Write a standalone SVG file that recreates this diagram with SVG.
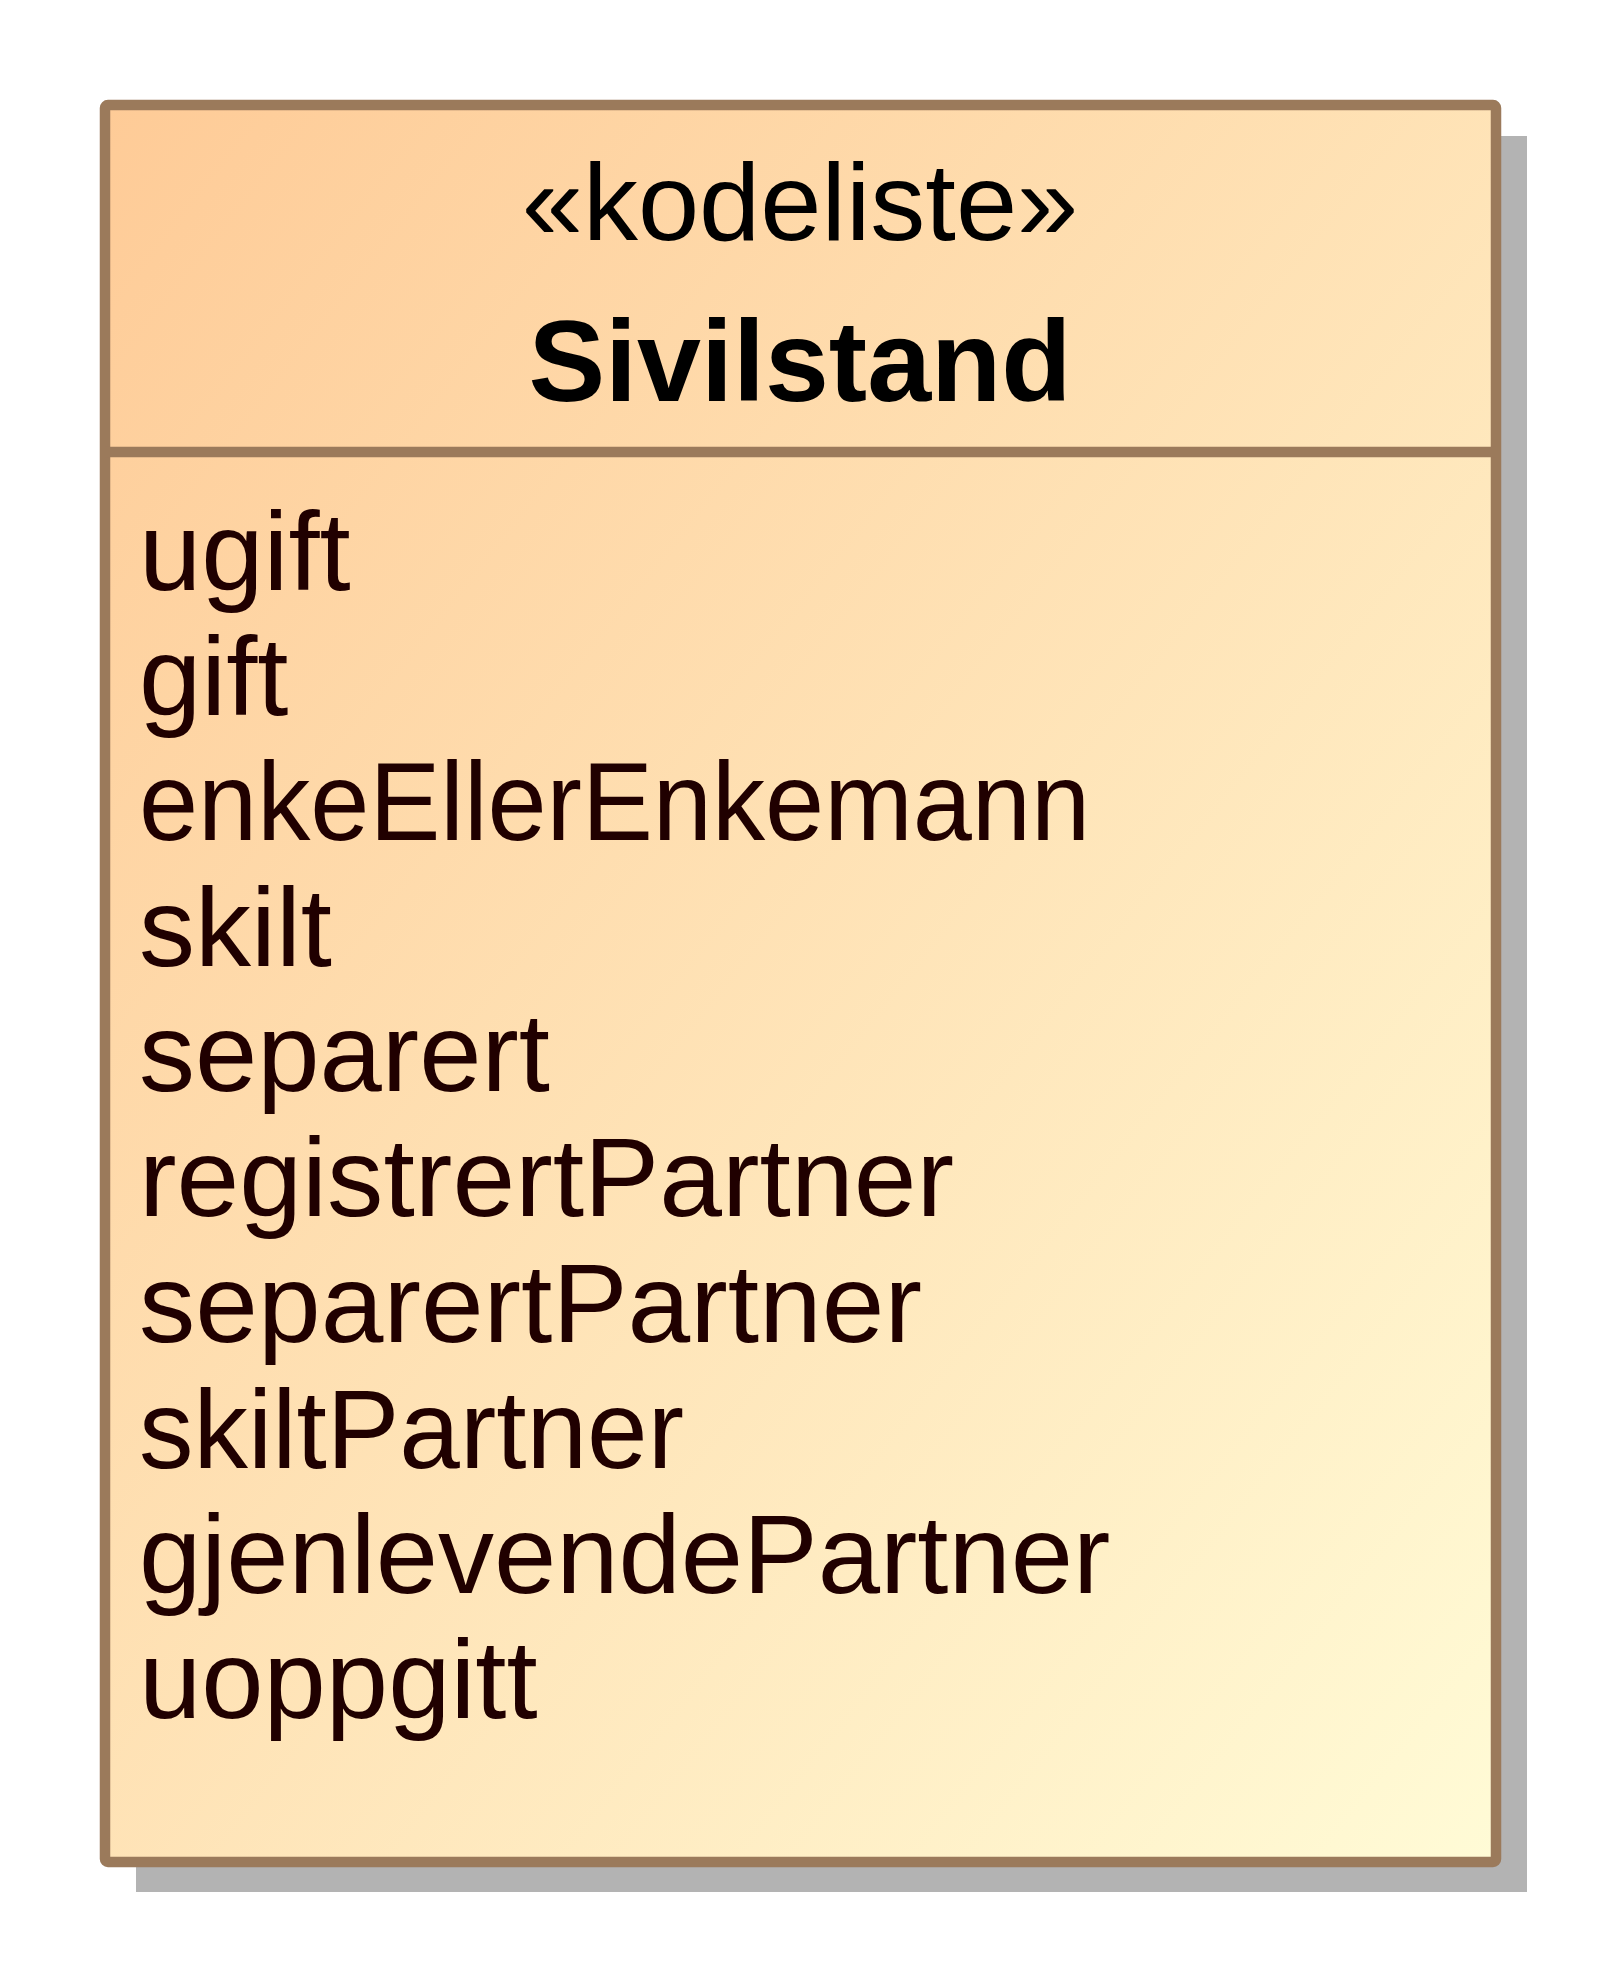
<svg xmlns="http://www.w3.org/2000/svg" width="1600" height="1966" viewBox="0 0 1600 1966">
  <style>
    .stereo { font-family: "Liberation Sans", Arial, sans-serif; font-size: 110px; fill: #000000; }
    .name { font-family: "Liberation Sans", Arial, sans-serif; font-size: 115px; font-weight: bold; fill: #000000; }
    .attr { font-family: "Liberation Sans", Arial, sans-serif; font-size: 112px; fill: #200000; }
    .frame { fill: none; stroke: #9B7A5B; stroke-width: 10.5; }
  </style>
  <defs>
    <linearGradient id="fillGrad" x1="0" y1="0" x2="1" y2="1">
      <stop offset="0" stop-color="#FECB97"/>
      <stop offset="1" stop-color="#FFFBD6"/>
    </linearGradient>
  </defs>
  <rect width="1600" height="1966" fill="#FFFFFF"/>
  <g id="node-sivilstand">
    <rect x="136" y="136" width="1391" height="1756" fill="#B3B3B3"/>
    <rect x="105" y="105" width="1391" height="1757" rx="3" fill="url(#fillGrad)"/>
    <rect class="frame" x="105" y="105" width="1391" height="1757" rx="3"/>
    <line class="frame" x1="105" y1="452" x2="1496" y2="452"/>
    <text class="stereo" x="800" y="240" text-anchor="middle">«kodeliste»</text>
    <text class="name" x="800" y="401" text-anchor="middle">Sivilstand</text>
    <text class="attr" x="139" y="590">ugift</text>
    <text class="attr" x="139" y="715">gift</text>
    <text class="attr" x="139" y="840" textLength="951" lengthAdjust="spacingAndGlyphs">enkeEllerEnkemann</text>
    <text class="attr" x="139" y="966">skilt</text>
    <text class="attr" x="139" y="1091">separert</text>
    <text class="attr" x="139" y="1216" textLength="815" lengthAdjust="spacingAndGlyphs">registrertPartner</text>
    <text class="attr" x="139" y="1342" textLength="783" lengthAdjust="spacingAndGlyphs">separertPartner</text>
    <text class="attr" x="139" y="1468" textLength="545" lengthAdjust="spacingAndGlyphs">skiltPartner</text>
    <text class="attr" x="139" y="1593">gjenlevendePartner</text>
    <text class="attr" x="139" y="1718">uoppgitt</text>
  </g>
  <g id="connectors"/>
</svg>
